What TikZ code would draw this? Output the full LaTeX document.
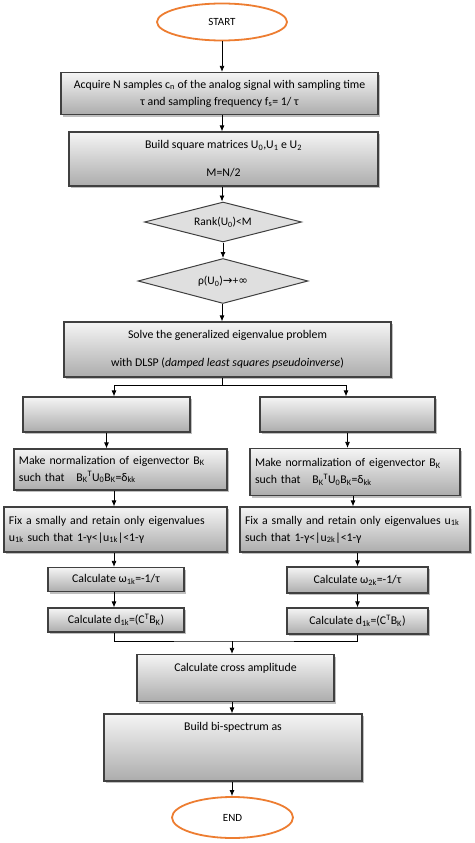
\documentclass[tikz,border=0pt]{standalone}
\usepackage{fontspec}
\setmainfont{Carlito}
\newfontfamily\symbfont{DejaVu Sans}
\usepackage{tikz}
\usetikzlibrary{shapes.geometric, arrows.meta, shadows}
\definecolor{termorange}{RGB}{237,125,49}
\definecolor{boxline}{RGB}{64,64,64}

\begin{document}
\begin{tikzpicture}[x=1pt, y=-1pt,
  term/.style={ellipse, draw=termorange, line width=1.8pt, fill=white, inner sep=0pt, font=\fontsize{11}{13}\selectfont},
  proc/.style={rectangle, draw=boxline, line width=1.2pt, top color=gray!8, bottom color=gray!65,
    drop shadow={shadow xshift=2pt, shadow yshift=-2pt, fill=gray!50, opacity=1},
    inner sep=5pt, align=center, font=\fontsize{11.8}{17}\selectfont},
  leftproc/.style={proc, align=left, inner xsep=5pt},
  test/.style={diamond, draw=boxline, line width=1pt, fill=gray!25, inner sep=0pt, font=\fontsize{11.5}{13}\selectfont},
  arr/.style={-{Latex[length=6pt,width=5pt]}, line width=0.8pt},
  link/.style={line width=0.8pt}]
  \useasboundingbox (0,0) rectangle (474,843);

  \node[term, minimum width=130pt, minimum height=37pt] (start) at (222,22) {START};
  \node[proc, minimum width=317pt, minimum height=42pt] (acq) at (219.5,93.5)
    {Acquire N samples c\textsubscript{n} of the analog signal with sampling time\\ τ and sampling frequency f\textsubscript{s}= 1/ τ};
  \node[proc, minimum width=309pt, minimum height=54pt] (build) at (223.5,159)
    {Build square matrices U\textsubscript{0},U\textsubscript{1} e U\textsubscript{2}\\[11pt] M=N/2};
  \node[test, aspect=3.9, minimum width=157pt, minimum height=40pt] (rank) at (223,222) {Rank(U\textsubscript{0})<M};
  \node[test, aspect=3.8, minimum width=170pt, minimum height=45pt] (cond) at (223,281) {ρ(U\textsubscript{0}){\symbfont →}+{\symbfont ∞}};
  \node[proc, minimum width=327pt, minimum height=55pt] (solve) at (227.5,349.5)
    {Solve the generalized eigenvalue problem\\[11pt] with DLSP (\textit{damped least squares pseudoinverse})};

  \node[proc, minimum width=167pt, minimum height=35pt] (emptyL) at (106.5,414.5) {};
  \node[proc, minimum width=175pt, minimum height=35pt] (emptyR) at (347.5,414.5) {};
  \node[leftproc, minimum width=213pt, minimum height=41pt, text width=203pt] (normL) at (120.5,469.5)
    {Make normalization of eigenvector B\textsubscript{K}\\ such that\quad B\textsubscript{K}\textsuperscript{T}U\textsubscript{0}B\textsubscript{K}=δ\textsubscript{kk}};
  \node[leftproc, minimum width=210pt, minimum height=47pt, text width=200pt] (normR) at (355,472)
    {Make normalization of eigenvector B\textsubscript{K}\\ such that\quad B\textsubscript{K}\textsuperscript{T}U\textsubscript{0}B\textsubscript{K}=δ\textsubscript{kk}};
  \node[leftproc, minimum width=223pt, minimum height=45pt, text width=213pt] (fixL) at (115.5,529.5)
    {Fix a smally and retain only eigenvalues\\ u\textsubscript{1k} such that 1-γ<|u\textsubscript{1k}|<1-γ};
  \node[leftproc, minimum width=230pt, minimum height=45pt, text width=220pt] (fixR) at (355,529.5)
    {Fix a smally and retain only eigenvalues u\textsubscript{1k}\\ such that 1-γ<|u\textsubscript{2k}|<1-γ};
  \node[proc, minimum width=136pt, minimum height=24pt] (omegaL) at (116,579.5) {Calculate ω\textsubscript{1k}=-1/τ};
  \node[proc, minimum width=141pt, minimum height=26pt] (omegaR) at (357.5,580) {Calculate ω\textsubscript{2k}=-1/τ};
  \node[proc, minimum width=136pt, minimum height=24pt] (ampL) at (116,620)
    {Calculate d\textsubscript{1k}=(C\textsuperscript{T}B\textsubscript{K})};
  \node[proc, minimum width=141pt, minimum height=26pt] (ampR) at (357.5,621)
    {Calculate d\textsubscript{1k}=(C\textsuperscript{T}B\textsubscript{K})};

  \node[proc, minimum width=197pt, minimum height=47pt, text height=11.5pt, text depth=25.5pt] (cross) at (235.5,678)
    {Calculate cross amplitude};
  \node[proc, minimum width=258pt, minimum height=67pt, text height=11pt, text depth=46pt] (bispec) at (233,747.5)
    {Build bi-spectrum as};
  \node[term, minimum width=121pt, minimum height=41pt] (end) at (232.5,817.5) {END};

  \coordinate (split) at (222,385);
  \coordinate (colL) at (114,0);
  \coordinate (colR) at (346,0);
  \coordinate (merge) at (232,641);

  \draw[arr] (start.south) -- (acq.north -| start);
  \draw[arr] (acq.south -| start) -- (build.north -| start);
  \draw[arr] (build.south -| start) -- (rank.north -| start);
  \draw[arr] (rank.south) -- (cond.north);
  \draw[arr] (cond.south -| start) -- (solve.north -| start);
  \draw[link] (solve.south -| split) -- (split);
  \draw[arr] (split) -| (colL |- emptyL.north);
  \draw[arr] (split) -| (colR |- emptyR.north);
  \draw[arr] (emptyL.south) -- (emptyL.south |- normL.north);
  \draw[arr] (emptyR.south) -- (emptyR.south |- normR.north);
  \draw[arr] (normL.south -| colL) -- (fixL.north -| colL);
  \draw[arr] (normR.south -| 353,0) -- (fixR.north -| 353,0);
  \draw[arr] (fixL.south -| colL) -- (omegaL.north -| colL);
  \draw[arr] (fixR.south -| omegaR) -- (omegaR.north);
  \draw[arr] (omegaL.south -| colL) -- (ampL.north -| colL);
  \draw[arr] (omegaR.south) -- (ampR.north);
  \draw[link] (ampL.south -| colL) |- (merge) -| (ampR.south);
  \draw[arr] (merge) -- (cross.north -| merge);
  \draw[arr] (cross.south -| merge) -- (bispec.north -| merge);
  \draw[arr] (bispec.south -| merge) -- (end.north -| merge);
\end{tikzpicture}
\end{document}
